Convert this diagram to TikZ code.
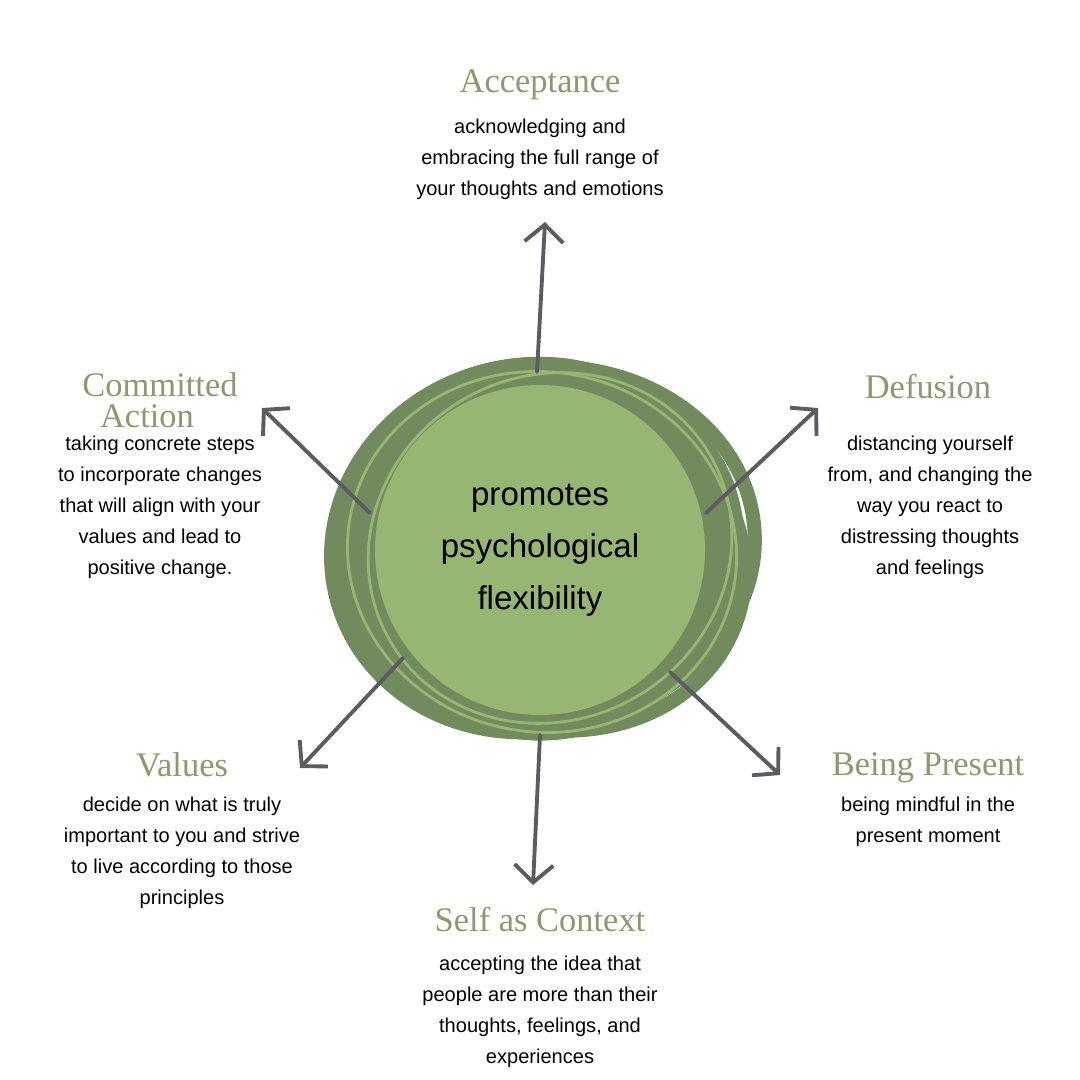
\documentclass[tikz,border=0pt]{standalone}
\usepackage{fontspec}
\setmainfont{Liberation Sans}
\newfontfamily\headfont{Liberation Serif}
\usetikzlibrary{arrows.meta}
\definecolor{leaf}{HTML}{97B573}
\definecolor{moss}{HTML}{718B5E}
\definecolor{sage}{HTML}{8A9A6E}
\definecolor{slate}{HTML}{5C5B62}
\tikzset{
  px/.style={x=0.01cm,y=-0.01cm},
  head/.style={text=sage,font=\headfont\fontsize{9.8}{7.8}\selectfont,align=center},
  body/.style={font=\fontsize{5.7}{8.8}\selectfont,align=center},
  spoke/.style={slate,line width=1.1pt,line cap=round,-{Straight Barb[length=5pt,width=11pt,line width=1.1pt]}},
  scrib/.style={moss,line width=4pt},
  gap/.style={leaf,line width=0.8pt}
}
\begin{document}
\begin{tikzpicture}[px]
       \useasboundingbox (0,0) rectangle (1080,1080);
       % scribbled ring
       \fill[moss] (538,552) ellipse [x radius=205,y radius=185];
       \draw[scrib] (548,555) ellipse [x radius=200,y radius=172,rotate=-20];
       \draw[scrib] (530,548) ellipse [x radius=200,y radius=183,rotate=15];
       \draw[scrib] (560,560) ellipse [x radius=185,y radius=165,rotate=40];
       \draw[scrib] (545,545) ellipse [x radius=210,y radius=178,rotate=5];
       \draw[gap] (542,552) ellipse [x radius=195,y radius=180,rotate=-10];
       \draw[gap] (550,548) ellipse [x radius=185,y radius=172,rotate=30];
       \node[circle,fill=leaf,minimum size=330*0.01cm,inner sep=0pt] (hub) at (540,550) {};
       \node[font=\fontsize{9.4}{14.8}\selectfont,align=center] at (hub) {promotes\\psychological\\flexibility};
       % spokes
       \coordinate (a0) at (537,372); \coordinate (a1) at (545,222);
       \coordinate (d0) at (706,513); \coordinate (d1) at (818,408);
       \coordinate (b0) at (670,672); \coordinate (b1) at (780,775);
       \coordinate (s0) at (540,735); \coordinate (s1) at (533,885);
       \coordinate (v0) at (403,658); \coordinate (v1) at (300,768);
       \coordinate (c0) at (370,513); \coordinate (c1) at (262,408);
       \foreach \k in {a,d,b,s,v,c}
         \draw[spoke] (\k0) -- (\k1);
       % labels
       \node[head] (acc) at (540,85) {Acceptance};
       \node[body] (acct) at (540,159) {acknowledging and\\embracing the full range of\\your thoughts and emotions};
       \node[head,inner sep=0pt] (com) at (160,385) {Committed};
       \node[head,inner sep=0pt] (act) at (147,416) {Action};
       \node[body] (comt) at (160,507) {taking concrete steps\\to incorporate changes\\that will align with your\\values and lead to\\positive change.};
       \node[head] (def) at (928,387) {Defusion};
       \node[body] (deft) at (930,507) {distancing yourself\\from, and changing the\\way you react to\\distressing thoughts\\and feelings};
       \node[head] (val) at (182,765) {Values};
       \node[body] (valt) at (182,853) {decide on what is truly\\important to you and strive\\to live according to those\\principles};
       \node[head] (pre) at (928,768) {Being Present};
       \node[body] (pret) at (928,822) {being mindful in the\\present moment};
       \node[head] (ctx) at (540,920) {Self as Context};
       \node[body] (ctxt) at (540,1012) {accepting the idea that\\people are more than their\\thoughts, feelings, and\\experiences};
\end{tikzpicture}
\end{document}
